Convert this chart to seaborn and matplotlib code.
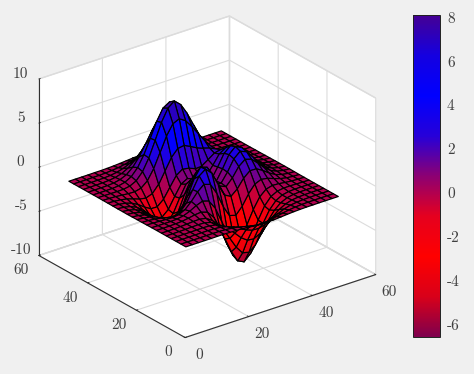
import numpy as np
import seaborn as sns
import matplotlib
matplotlib.use('Agg')
import matplotlib.pyplot as plt

# heights estimated on every second mesh line of the picture
x_pos = [1, 3, 5, 7, 9, 11, 13, 15, 17, 19, 21, 23, 25, 27, 29, 31, 33, 35, 37, 39, 41, 43, 45, 47, 49]
y_pos = x_pos
z_rows = [
    [0, 0, 0, 0, 0, 0.01, 0.01, -0.01, -0.03, -0.08, -0.14, -0.2, -0.25, -0.25, -0.22, -0.17, -0.11, -0.06, -0.03, -0.01, -0.01, 0, 0, 0, 0],
    [0, 0, 0, 0, 0.01, 0.01, 0, -0.03, -0.1, -0.22, -0.39, -0.56, -0.68, -0.7, -0.61, -0.46, -0.3, -0.17, -0.08, -0.03, -0.01, 0, 0, 0, 0],
    [0, 0, 0, 0.01, 0.02, 0.02, 0, -0.07, -0.24, -0.52, -0.91, -1.3, -1.57, -1.6, -1.4, -1.06, -0.69, -0.38, -0.18, -0.08, -0.03, -0.01, 0, 0, 0],
    [0, 0, 0.01, 0.01, 0.03, 0.04, 0.01, -0.12, -0.44, -0.99, -1.74, -2.5, -3.02, -3.1, -2.72, -2.05, -1.32, -0.74, -0.35, -0.14, -0.05, -0.01, 0, 0, 0],
    [0, 0, 0.01, 0.02, 0.05, 0.07, 0.05, -0.13, -0.59, -1.45, -2.64, -3.88, -4.76, -4.93, -4.35, -3.27, -2.1, -1.15, -0.53, -0.2, -0.06, -0.01, 0, 0, 0],
    [0, 0, 0.01, 0.03, 0.07, 0.13, 0.15, 0.02, -0.47, -1.48, -3.01, -4.7, -5.98, -6.33, -5.64, -4.25, -2.69, -1.42, -0.61, -0.2, -0.05, 0, 0.01, 0, 0],
    [0, 0, 0.01, 0.03, 0.08, 0.19, 0.33, 0.4, 0.16, -0.66, -2.16, -4.04, -5.65, -6.29, -5.74, -4.3, -2.63, -1.27, -0.44, -0.07, 0.04, 0.05, 0.03, 0.01, 0],
    [0, -0.01, -0.01, -0.01, 0.03, 0.16, 0.44, 0.83, 1.1, 0.88, -0.15, -1.86, -3.62, -4.62, -4.41, -3.23, -1.74, -0.56, 0.08, 0.27, 0.23, 0.13, 0.06, 0.02, 0.01],
    [-0.01, -0.02, -0.06, -0.1, -0.13, -0.04, 0.3, 0.99, 1.85, 2.46, 2.23, 0.99, -0.73, -2.02, -2.22, -1.43, -0.28, 0.58, 0.88, 0.77, 0.5, 0.26, 0.11, 0.04, 0.01],
    [-0.02, -0.05, -0.12, -0.25, -0.42, -0.51, -0.28, 0.49, 1.78, 3.09, 3.63, 2.94, 1.4, -0.01, -0.41, 0.2, 1.17, 1.79, 1.77, 1.35, 0.82, 0.41, 0.18, 0.06, 0.02],
    [-0.02, -0.08, -0.2, -0.44, -0.8, -1.16, -1.21, -0.6, 0.8, 2.49, 3.55, 3.3, 2.0, 0.7, 0.39, 1.14, 2.19, 2.77, 2.55, 1.87, 1.12, 0.56, 0.24, 0.09, 0.03],
    [-0.03, -0.1, -0.27, -0.6, -1.14, -1.77, -2.15, -1.84, -0.56, 1.24, 2.57, 2.62, 1.59, 0.53, 0.48, 1.5, 2.75, 3.38, 3.08, 2.24, 1.34, 0.66, 0.28, 0.1, 0.03],
    [-0.04, -0.11, -0.3, -0.69, -1.33, -2.14, -2.77, -2.72, -1.65, 0.07, 1.48, 1.75, 0.98, 0.19, 0.38, 1.57, 2.93, 3.59, 3.26, 2.37, 1.41, 0.7, 0.3, 0.11, 0.03],
    [-0.03, -0.11, -0.29, -0.67, -1.31, -2.15, -2.86, -2.98, -2.14, -0.64, 0.68, 1.05, 0.52, -0.03, 0.28, 1.46, 2.75, 3.37, 3.05, 2.21, 1.32, 0.65, 0.28, 0.1, 0.03],
    [-0.03, -0.09, -0.25, -0.57, -1.12, -1.85, -2.49, -2.64, -2.0, -0.76, 0.39, 0.79, 0.46, 0.09, 0.38, 1.34, 2.37, 2.84, 2.55, 1.84, 1.09, 0.54, 0.23, 0.08, 0.02],
    [-0.02, -0.07, -0.18, -0.42, -0.81, -1.33, -1.76, -1.78, -1.16, -0.05, 1.04, 1.55, 1.42, 1.12, 1.17, 1.65, 2.17, 2.33, 1.99, 1.4, 0.82, 0.4, 0.17, 0.06, 0.02],
    [-0.01, -0.04, -0.11, -0.25, -0.48, -0.74, -0.86, -0.6, 0.23, 1.51, 2.8, 3.58, 3.69, 3.34, 2.94, 2.66, 2.43, 2.09, 1.58, 1.03, 0.58, 0.28, 0.11, 0.04, 0.01],
    [-0.01, -0.02, -0.06, -0.12, -0.2, -0.22, -0.05, 0.55, 1.7, 3.3, 4.93, 6.07, 6.4, 5.95, 5.03, 3.98, 2.97, 2.1, 1.35, 0.79, 0.41, 0.19, 0.07, 0.03, 0.01],
    [0, -0.01, -0.02, -0.03, -0.01, 0.11, 0.47, 1.27, 2.6, 4.36, 6.17, 7.51, 8.1, 7.45, 6.23, 4.7, 3.24, 2.05, 1.18, 0.62, 0.29, 0.12, 0.05, 0.02, 0],
    [0, 0, 0, 0.01, 0.07, 0.24, 0.64, 1.43, 2.67, 4.29, 5.96, 7.22, 7.67, 7.19, 5.99, 4.45, 2.96, 1.78, 0.96, 0.47, 0.21, 0.08, 0.03, 0.01, 0],
    [0, 0, 0.01, 0.02, 0.08, 0.23, 0.55, 1.16, 2.1, 3.31, 4.56, 5.51, 5.86, 5.5, 4.57, 3.37, 2.21, 1.3, 0.67, 0.32, 0.13, 0.05, 0.02, 0, 0],
    [0, 0, 0.01, 0.02, 0.06, 0.16, 0.36, 0.74, 1.32, 2.07, 2.84, 3.43, 3.65, 3.42, 2.84, 2.09, 1.36, 0.79, 0.4, 0.19, 0.08, 0.03, 0.01, 0, 0],
    [0, 0, 0, 0.01, 0.03, 0.08, 0.19, 0.39, 0.69, 1.07, 1.46, 1.77, 1.88, 1.76, 1.47, 1.07, 0.7, 0.4, 0.2, 0.09, 0.04, 0.01, 0, 0, 0],
    [0, 0, 0, 0.01, 0.01, 0.04, 0.09, 0.17, 0.3, 0.47, 0.64, 0.77, 0.82, 0.77, 0.64, 0.47, 0.3, 0.17, 0.09, 0.04, 0.02, 0.01, 0, 0, 0],
    [0, 0, 0, 0, 0.01, 0.01, 0.03, 0.06, 0.11, 0.17, 0.23, 0.28, 0.3, 0.28, 0.23, 0.17, 0.11, 0.06, 0.03, 0.01, 0.01, 0, 0, 0, 0],
]
z_min, z_max = -6.55, 8.1
xy_ticks = [0, 20, 40, 60]
z_ticks = [-10, -5, 0, 5, 10]
z_labels = ['-10', '-5', '0', '5', '10']
cbar_ticks = [-6, -4, -2, 0, 2, 4, 6, 8]
cbar_labels = ['-6', '-4', '-2', '0', '2', '4', '6', '8']
map_colors = [(.50, 0, .30), (.85, 0, .10), (1, 0, 0), (.90, 0, .12), (.55, 0, .45),
              (.15, 0, .85), (0, 0, 1), (.08, 0, .88), (.27, 0, .58)]

bg = '#f0f0f0'
txt = '#404040'
grid = '#dcdcdc'

sns.set_theme(style='white')
plt.rcParams['font.family'] = ['cmr10', 'DejaVu Serif']
plt.rcParams['axes.unicode_minus'] = False
plt.rcParams['font.size'] = 11

cmap = sns.blend_palette(map_colors, n_colors=256, as_cmap=True)
X, Y = np.meshgrid(x_pos, y_pos)
Z = np.array(z_rows)

fig = plt.figure(figsize=(4.74, 3.74), dpi=100, facecolor=bg)
ax = fig.add_axes([-0.049, -0.017, 0.95, 1.06], projection='3d', proj_type='ortho', facecolor=bg)
ax.view_init(elev=25.5, azim=-127.5)
ax.set_box_aspect((1, 1, 0.814), zoom=0.96)

surf = ax.plot_surface(X, Y, Z, cmap=cmap, vmin=z_min, vmax=z_max, rstride=1, cstride=1,
                       edgecolor='black', linewidth=0.85, shade=False, antialiased=True)

ax.set_xlim(0, 60)
ax.set_ylim(0, 60)
ax.set_zlim(-10, 10)
ax.set_xticks(xy_ticks)
ax.set_yticks(xy_ticks)
ax.set_zticks(z_ticks)
ax.set_xticklabels([str(t) for t in xy_ticks], color=txt, fontsize=11, ha='center', va='bottom')
ax.set_yticklabels([str(t) for t in xy_ticks], color=txt, fontsize=11, ha='center', va='bottom')
ax.set_zticklabels(z_labels, color=txt, fontsize=11, va='baseline')
ax.tick_params(axis='x', pad=6)
ax.tick_params(axis='y', pad=5.5)
ax.tick_params(axis='z', pad=0)

for axis in (ax.xaxis, ax.yaxis, ax.zaxis):
    axis.set_pane_color('white')
    axis.pane.set_edgecolor(grid)
    axis.line.set_color('#303030')
    axis.line.set_linewidth(0.8)
    axis._axinfo['grid'].update(color=grid, linewidth=0.8)
    axis._axinfo['tick'].update(inward_factor=0.0, outward_factor=0.1, linewidth={True: 0.6, False: 0.6})

# colorbar
cax = fig.add_axes([413 / 474, 1 - 337 / 374, 27 / 474, 322 / 374])
cbar = fig.colorbar(surf, cax=cax, ticks=cbar_ticks)
surf.set_clim(z_min, z_max)
cbar.ax.set_yticklabels(cbar_labels, color=txt, fontsize=11)
cbar.ax.tick_params(axis='y', direction='in', length=2.5, width=0.5, color='#202020', pad=5, right=True, left=False)
cbar.outline.set_edgecolor('#202020')
cbar.outline.set_linewidth(0.7)

fig.savefig('out.png', dpi=100, facecolor=bg)
